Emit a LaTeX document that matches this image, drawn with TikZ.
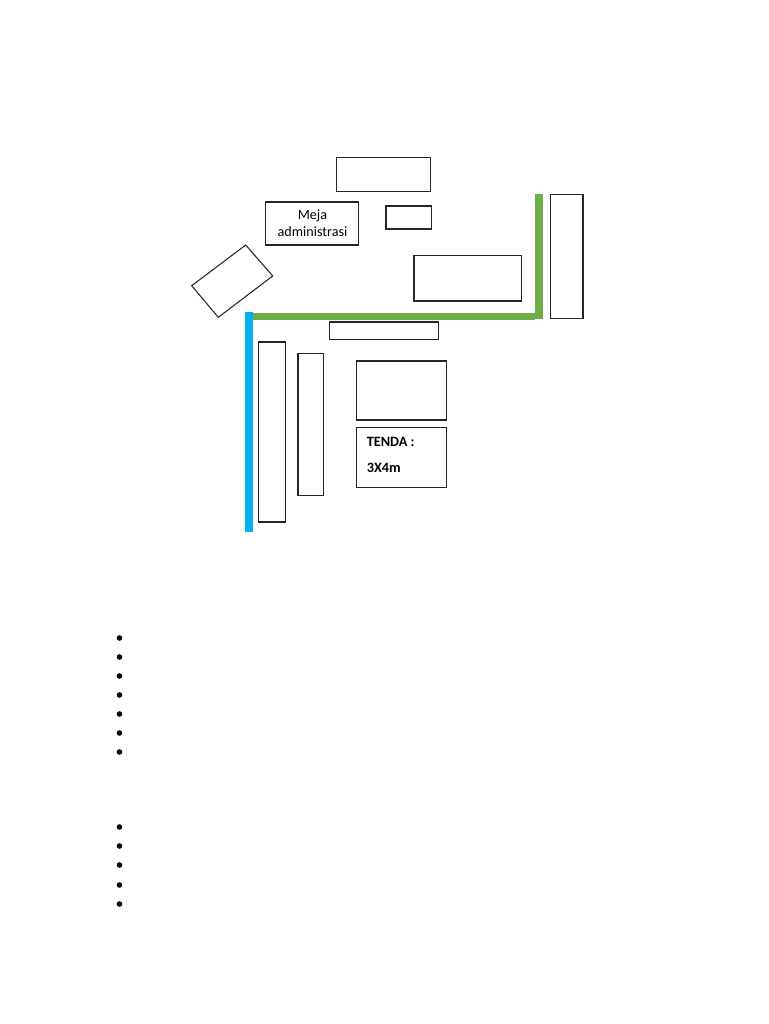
\documentclass[tikz,border=0pt]{standalone}
\usepackage{fontspec}
\setmainfont{Carlito}
\definecolor{wallgreen}{HTML}{70AD47}
\definecolor{wallblue}{HTML}{00B0F0}
\definecolor{edgegrey}{HTML}{262626}
\tikzset{
  plainbox/.style={draw=edgegrey,line width=0.8pt,fill=white,inner sep=0pt,outer sep=0pt},
  greenwall/.style={draw=wallgreen},
  bluewall/.style={draw=wallblue,line width=6pt},
  bulletdot/.style={circle,fill=black,inner sep=0pt,minimum size=4.2pt},
  lbl/.style={inner sep=0pt,align=center,font=\fontsize{10.6}{12.5}\selectfont},
  boldlbl/.style={inner sep=0pt,anchor=west,font=\fontsize{10.7}{12}\selectfont\bfseries}
}
\newcommand{\pxbox}[5]{%
  \pgfmathsetmacro{\bw}{(#4-#2)*0.75}%
  \pgfmathsetmacro{\bh}{(#5-#3)*0.75}%
  \node[plainbox,minimum width=\bw pt,minimum height=\bh pt] (#1) at ({(#2+#4)/2},{(#3+#5)/2}) {};%
}
\begin{document}
\begin{tikzpicture}[x=0.75pt,y=-0.75pt]
\useasboundingbox (0,0) rectangle (768,1024);
\pxbox{top}{336.5}{157.5}{430.5}{191.5}
\pxbox{meja}{265.5}{202}{358.5}{245}
\pxbox{small}{386}{206}{431.5}{229}
\pxbox{large}{414}{255.3}{521.5}{301}
\pxbox{right}{550.3}{194.3}{583}{318.5}
\coordinate (sa) at (245.7,245);
\coordinate (sb) at (272.7,276);
\coordinate (sc) at (218.3,317.3);
\coordinate (sd) at (191.7,285.7);
\draw[plainbox] (sa) -- (sb) -- (sc) -- (sd) -- cycle;
\pxbox{bench}{329.5}{322}{438.5}{339.5}
\pxbox{leftA}{258.5}{342}{285.5}{522}
\pxbox{leftB}{298}{353.3}{323.5}{495.3}
\pxbox{tentA}{356.5}{361}{446.5}{420}
\pxbox{tenda}{356.5}{427.5}{446.5}{487.5}
\node[lbl] (mejatext) at (312.5,223.5) {Meja\\administrasi};
\node[boldlbl] (tendaA) at (366.5,442) {TENDA :};
\node[boldlbl] (tendaB) at (366.5,468) {3X4m};
\coordinate (gw) at (253,316.2);
\coordinate (gc) at (535,316.2);
\coordinate (gb) at (539,319);
\coordinate (gt) at (539,194);
\coordinate (bt) at (249,312);
\coordinate (bb) at (249,532);
\draw[greenwall,line width=5pt] (gw) -- (gc);
\draw[greenwall,line width=6pt] (gb) -- (gt);
\draw[bluewall] (bt) -- (bb);
\foreach \n/\y in {a/638,b/657,c/676,d/695,e/714,f/733,g/752,h/827,i/846,j/865,k/885,l/904}
  \node[bulletdot] (dot\n) at (119.5,\y) {};
\end{tikzpicture}
\end{document}
